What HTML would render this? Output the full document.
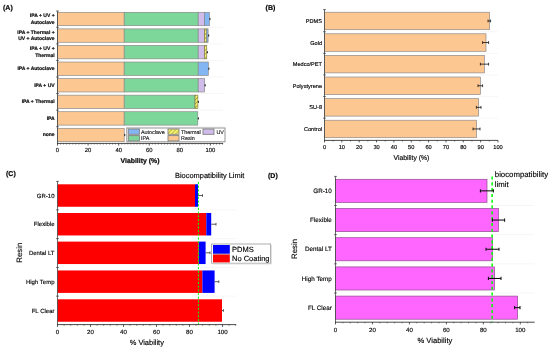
<!DOCTYPE html>
<html lang="en">
<head>
<meta charset="utf-8">
<title>Viability charts</title>
<style>
html,body{margin:0;padding:0;background:#fff;}
body{width:550px;height:350px;overflow:hidden;}
svg{display:block;font-family:"Liberation Sans", Arial, sans-serif;text-rendering:geometricPrecision;}
</style>
</head>
<body>
<svg width="550" height="350" viewBox="0 0 550 350">
<defs>
<pattern id="hatch" width="2.8" height="2.8" patternUnits="userSpaceOnUse" patternTransform="rotate(-45)">
<rect width="2.8" height="2.8" fill="#F7F074"/>
<line x1="0" y1="1.4" x2="2.8" y2="1.4" stroke="#8C8630" stroke-width="0.65"/>
</pattern>
<pattern id="hatch2" width="2.9" height="2.9" patternUnits="userSpaceOnUse" patternTransform="rotate(-45)">
<rect width="2.9" height="2.9" fill="#F8F36A"/>
<line x1="0" y1="1.45" x2="2.9" y2="1.45" stroke="#98984a" stroke-width="0.65"/>
</pattern>
</defs>
<rect width="550" height="350" fill="#ffffff"/>
<line x1="200.00" y1="27.29" x2="223.00" y2="27.29" stroke="#f0f0f0" stroke-width="0.6" />
<line x1="200.00" y1="43.85" x2="223.00" y2="43.85" stroke="#f0f0f0" stroke-width="0.6" />
<line x1="200.00" y1="60.43" x2="223.00" y2="60.43" stroke="#f0f0f0" stroke-width="0.6" />
<line x1="200.00" y1="77.00" x2="223.00" y2="77.00" stroke="#f0f0f0" stroke-width="0.6" />
<line x1="200.00" y1="93.56" x2="223.00" y2="93.56" stroke="#f0f0f0" stroke-width="0.6" />
<line x1="126.00" y1="110.14" x2="223.00" y2="110.14" stroke="#f0f0f0" stroke-width="0.6" />
<line x1="126.00" y1="126.71" x2="223.00" y2="126.71" stroke="#f0f0f0" stroke-width="0.6" />
<rect x="57.50" y="12.30" width="66.70" height="13.40" fill="#FDC792" stroke="#858585" stroke-width="0.65" />
<rect x="124.20" y="12.30" width="74.00" height="13.40" fill="#7ED79A" stroke="#858585" stroke-width="0.65" />
<rect x="198.20" y="12.30" width="6.40" height="13.40" fill="#D0BCEA" stroke="#858585" stroke-width="0.65" />
<rect x="204.60" y="12.30" width="4.80" height="13.40" fill="#84B6F3" stroke="#858585" stroke-width="0.65" />
<ellipse cx="209.95" cy="19.00" rx="0.6" ry="1.2" fill="#2a2a33"/>
<text x="54.60" y="17.00" font-size="5.0" text-anchor="end" font-weight="bold" fill="#111" stroke="#111" stroke-width="0.2">IPA + UV +</text>
<text x="54.60" y="23.80" font-size="5.0" text-anchor="end" font-weight="bold" fill="#111" stroke="#111" stroke-width="0.2">Autoclave</text>
<rect x="57.50" y="28.87" width="66.70" height="13.40" fill="#FDC792" stroke="#858585" stroke-width="0.65" />
<rect x="124.20" y="28.87" width="74.00" height="13.40" fill="#7ED79A" stroke="#858585" stroke-width="0.65" />
<rect x="198.20" y="28.87" width="6.50" height="13.40" fill="#D0BCEA" stroke="#858585" stroke-width="0.65" />
<rect x="204.70" y="28.87" width="2.10" height="13.40" fill="url(#hatch)" stroke="#77733a" stroke-width="0.6" />
<rect x="206.80" y="28.87" width="1.30" height="13.40" fill="#84B6F3" stroke="#858585" stroke-width="0.65" />
<ellipse cx="208.65" cy="35.57" rx="0.6" ry="1.2" fill="#2a2a33"/>
<text x="54.60" y="33.57" font-size="5.0" text-anchor="end" font-weight="bold" fill="#111" stroke="#111" stroke-width="0.2">IPA + Thermal +</text>
<text x="54.60" y="40.37" font-size="5.0" text-anchor="end" font-weight="bold" fill="#111" stroke="#111" stroke-width="0.2">UV + Autoclave</text>
<rect x="57.50" y="45.44" width="66.70" height="13.40" fill="#FDC792" stroke="#858585" stroke-width="0.65" />
<rect x="124.20" y="45.44" width="74.00" height="13.40" fill="#7ED79A" stroke="#858585" stroke-width="0.65" />
<rect x="198.20" y="45.44" width="6.50" height="13.40" fill="#D0BCEA" stroke="#858585" stroke-width="0.65" />
<rect x="204.70" y="45.44" width="2.10" height="13.40" fill="url(#hatch)" stroke="#77733a" stroke-width="0.6" />
<ellipse cx="207.35" cy="52.14" rx="0.6" ry="1.2" fill="#2a2a33"/>
<text x="54.60" y="50.14" font-size="5.0" text-anchor="end" font-weight="bold" fill="#111" stroke="#111" stroke-width="0.2">IPA + UV +</text>
<text x="54.60" y="56.94" font-size="5.0" text-anchor="end" font-weight="bold" fill="#111" stroke="#111" stroke-width="0.2">Thermal</text>
<rect x="57.50" y="62.01" width="66.70" height="13.40" fill="#FDC792" stroke="#858585" stroke-width="0.65" />
<rect x="124.20" y="62.01" width="74.00" height="13.40" fill="#7ED79A" stroke="#858585" stroke-width="0.65" />
<rect x="198.20" y="62.01" width="10.10" height="13.40" fill="#84B6F3" stroke="#858585" stroke-width="0.65" />
<ellipse cx="208.85" cy="68.71" rx="0.6" ry="1.2" fill="#2a2a33"/>
<text x="54.60" y="70.11" font-size="5.0" text-anchor="end" font-weight="bold" fill="#111" stroke="#111" stroke-width="0.2">IPA + Autoclave</text>
<rect x="57.50" y="78.58" width="66.70" height="13.40" fill="#FDC792" stroke="#858585" stroke-width="0.65" />
<rect x="124.20" y="78.58" width="74.00" height="13.40" fill="#7ED79A" stroke="#858585" stroke-width="0.65" />
<rect x="198.20" y="78.58" width="6.40" height="13.40" fill="#D0BCEA" stroke="#858585" stroke-width="0.65" />
<ellipse cx="205.15" cy="85.28" rx="0.6" ry="1.2" fill="#2a2a33"/>
<text x="54.60" y="86.68" font-size="5.0" text-anchor="end" font-weight="bold" fill="#111" stroke="#111" stroke-width="0.2">IPA + UV</text>
<rect x="57.50" y="95.15" width="66.70" height="13.40" fill="#FDC792" stroke="#858585" stroke-width="0.65" />
<rect x="124.20" y="95.15" width="70.80" height="13.40" fill="#7ED79A" stroke="#858585" stroke-width="0.65" />
<rect x="195.00" y="95.15" width="2.90" height="13.40" fill="url(#hatch)" stroke="#77733a" stroke-width="0.6" />
<ellipse cx="198.45" cy="101.85" rx="0.6" ry="1.2" fill="#2a2a33"/>
<text x="54.60" y="103.25" font-size="5.0" text-anchor="end" font-weight="bold" fill="#111" stroke="#111" stroke-width="0.2">IPA + Thermal</text>
<rect x="57.50" y="111.72" width="66.70" height="13.40" fill="#FDC792" stroke="#858585" stroke-width="0.65" />
<rect x="124.20" y="111.72" width="73.60" height="13.40" fill="#7ED79A" stroke="#858585" stroke-width="0.65" />
<ellipse cx="198.35" cy="118.42" rx="0.6" ry="1.2" fill="#2a2a33"/>
<text x="54.60" y="119.82" font-size="5.0" text-anchor="end" font-weight="bold" fill="#111" stroke="#111" stroke-width="0.2">IPA</text>
<rect x="57.50" y="128.29" width="66.70" height="13.40" fill="#FDC792" stroke="#858585" stroke-width="0.65" />
<ellipse cx="124.75" cy="134.99" rx="0.6" ry="1.2" fill="#2a2a33"/>
<text x="54.60" y="136.39" font-size="5.0" text-anchor="end" font-weight="bold" fill="#111" stroke="#111" stroke-width="0.2">none</text>
<line x1="57.50" y1="11.00" x2="57.50" y2="143.80" stroke="#444" stroke-width="0.8" />
<line x1="56.10" y1="11.00" x2="58.90" y2="11.00" stroke="#333" stroke-width="0.7" />
<line x1="56.10" y1="27.29" x2="58.90" y2="27.29" stroke="#333" stroke-width="0.7" />
<line x1="56.10" y1="43.85" x2="58.90" y2="43.85" stroke="#333" stroke-width="0.7" />
<line x1="56.10" y1="60.43" x2="58.90" y2="60.43" stroke="#333" stroke-width="0.7" />
<line x1="56.10" y1="77.00" x2="58.90" y2="77.00" stroke="#333" stroke-width="0.7" />
<line x1="56.10" y1="93.56" x2="58.90" y2="93.56" stroke="#333" stroke-width="0.7" />
<line x1="56.10" y1="110.14" x2="58.90" y2="110.14" stroke="#333" stroke-width="0.7" />
<line x1="56.10" y1="126.71" x2="58.90" y2="126.71" stroke="#333" stroke-width="0.7" />
<line x1="57.10" y1="143.40" x2="223.09" y2="143.40" stroke="#2a2a2a" stroke-width="0.85" />
<line x1="57.50" y1="143.40" x2="57.50" y2="145.60" stroke="#222" stroke-width="0.75" />
<text x="57.50" y="152.30" font-size="5.9" text-anchor="middle" font-weight="normal" fill="#000" stroke="#000" stroke-width="0.14">0</text>
<line x1="60.56" y1="143.40" x2="60.56" y2="144.50" stroke="#222" stroke-width="0.6" />
<line x1="63.62" y1="143.40" x2="63.62" y2="144.50" stroke="#222" stroke-width="0.6" />
<line x1="66.67" y1="143.40" x2="66.67" y2="144.50" stroke="#222" stroke-width="0.6" />
<line x1="69.73" y1="143.40" x2="69.73" y2="144.50" stroke="#222" stroke-width="0.6" />
<line x1="72.79" y1="143.40" x2="72.79" y2="144.50" stroke="#222" stroke-width="0.6" />
<line x1="75.85" y1="143.40" x2="75.85" y2="144.50" stroke="#222" stroke-width="0.6" />
<line x1="78.91" y1="143.40" x2="78.91" y2="144.50" stroke="#222" stroke-width="0.6" />
<line x1="81.96" y1="143.40" x2="81.96" y2="144.50" stroke="#222" stroke-width="0.6" />
<line x1="85.02" y1="143.40" x2="85.02" y2="144.50" stroke="#222" stroke-width="0.6" />
<line x1="88.08" y1="143.40" x2="88.08" y2="145.60" stroke="#222" stroke-width="0.75" />
<text x="88.08" y="152.30" font-size="5.9" text-anchor="middle" font-weight="normal" fill="#000" stroke="#000" stroke-width="0.14">20</text>
<line x1="91.14" y1="143.40" x2="91.14" y2="144.50" stroke="#222" stroke-width="0.6" />
<line x1="94.20" y1="143.40" x2="94.20" y2="144.50" stroke="#222" stroke-width="0.6" />
<line x1="97.25" y1="143.40" x2="97.25" y2="144.50" stroke="#222" stroke-width="0.6" />
<line x1="100.31" y1="143.40" x2="100.31" y2="144.50" stroke="#222" stroke-width="0.6" />
<line x1="103.37" y1="143.40" x2="103.37" y2="144.50" stroke="#222" stroke-width="0.6" />
<line x1="106.43" y1="143.40" x2="106.43" y2="144.50" stroke="#222" stroke-width="0.6" />
<line x1="109.49" y1="143.40" x2="109.49" y2="144.50" stroke="#222" stroke-width="0.6" />
<line x1="112.54" y1="143.40" x2="112.54" y2="144.50" stroke="#222" stroke-width="0.6" />
<line x1="115.60" y1="143.40" x2="115.60" y2="144.50" stroke="#222" stroke-width="0.6" />
<line x1="118.66" y1="143.40" x2="118.66" y2="145.60" stroke="#222" stroke-width="0.75" />
<text x="118.66" y="152.30" font-size="5.9" text-anchor="middle" font-weight="normal" fill="#000" stroke="#000" stroke-width="0.14">40</text>
<line x1="121.72" y1="143.40" x2="121.72" y2="144.50" stroke="#222" stroke-width="0.6" />
<line x1="124.78" y1="143.40" x2="124.78" y2="144.50" stroke="#222" stroke-width="0.6" />
<line x1="127.83" y1="143.40" x2="127.83" y2="144.50" stroke="#222" stroke-width="0.6" />
<line x1="130.89" y1="143.40" x2="130.89" y2="144.50" stroke="#222" stroke-width="0.6" />
<line x1="133.95" y1="143.40" x2="133.95" y2="144.50" stroke="#222" stroke-width="0.6" />
<line x1="137.01" y1="143.40" x2="137.01" y2="144.50" stroke="#222" stroke-width="0.6" />
<line x1="140.07" y1="143.40" x2="140.07" y2="144.50" stroke="#222" stroke-width="0.6" />
<line x1="143.12" y1="143.40" x2="143.12" y2="144.50" stroke="#222" stroke-width="0.6" />
<line x1="146.18" y1="143.40" x2="146.18" y2="144.50" stroke="#222" stroke-width="0.6" />
<line x1="149.24" y1="143.40" x2="149.24" y2="145.60" stroke="#222" stroke-width="0.75" />
<text x="149.24" y="152.30" font-size="5.9" text-anchor="middle" font-weight="normal" fill="#000" stroke="#000" stroke-width="0.14">60</text>
<line x1="152.30" y1="143.40" x2="152.30" y2="144.50" stroke="#222" stroke-width="0.6" />
<line x1="155.36" y1="143.40" x2="155.36" y2="144.50" stroke="#222" stroke-width="0.6" />
<line x1="158.41" y1="143.40" x2="158.41" y2="144.50" stroke="#222" stroke-width="0.6" />
<line x1="161.47" y1="143.40" x2="161.47" y2="144.50" stroke="#222" stroke-width="0.6" />
<line x1="164.53" y1="143.40" x2="164.53" y2="144.50" stroke="#222" stroke-width="0.6" />
<line x1="167.59" y1="143.40" x2="167.59" y2="144.50" stroke="#222" stroke-width="0.6" />
<line x1="170.65" y1="143.40" x2="170.65" y2="144.50" stroke="#222" stroke-width="0.6" />
<line x1="173.70" y1="143.40" x2="173.70" y2="144.50" stroke="#222" stroke-width="0.6" />
<line x1="176.76" y1="143.40" x2="176.76" y2="144.50" stroke="#222" stroke-width="0.6" />
<line x1="179.82" y1="143.40" x2="179.82" y2="145.60" stroke="#222" stroke-width="0.75" />
<text x="179.82" y="152.30" font-size="5.9" text-anchor="middle" font-weight="normal" fill="#000" stroke="#000" stroke-width="0.14">80</text>
<line x1="182.88" y1="143.40" x2="182.88" y2="144.50" stroke="#222" stroke-width="0.6" />
<line x1="185.94" y1="143.40" x2="185.94" y2="144.50" stroke="#222" stroke-width="0.6" />
<line x1="188.99" y1="143.40" x2="188.99" y2="144.50" stroke="#222" stroke-width="0.6" />
<line x1="192.05" y1="143.40" x2="192.05" y2="144.50" stroke="#222" stroke-width="0.6" />
<line x1="195.11" y1="143.40" x2="195.11" y2="144.50" stroke="#222" stroke-width="0.6" />
<line x1="198.17" y1="143.40" x2="198.17" y2="144.50" stroke="#222" stroke-width="0.6" />
<line x1="201.23" y1="143.40" x2="201.23" y2="144.50" stroke="#222" stroke-width="0.6" />
<line x1="204.28" y1="143.40" x2="204.28" y2="144.50" stroke="#222" stroke-width="0.6" />
<line x1="207.34" y1="143.40" x2="207.34" y2="144.50" stroke="#222" stroke-width="0.6" />
<line x1="210.40" y1="143.40" x2="210.40" y2="145.60" stroke="#222" stroke-width="0.75" />
<text x="210.40" y="152.30" font-size="5.9" text-anchor="middle" font-weight="normal" fill="#000" stroke="#000" stroke-width="0.14">100</text>
<line x1="213.46" y1="143.40" x2="213.46" y2="144.50" stroke="#222" stroke-width="0.6" />
<line x1="216.52" y1="143.40" x2="216.52" y2="144.50" stroke="#222" stroke-width="0.6" />
<line x1="219.57" y1="143.40" x2="219.57" y2="144.50" stroke="#222" stroke-width="0.6" />
<line x1="222.63" y1="143.40" x2="222.63" y2="144.50" stroke="#222" stroke-width="0.6" />
<text x="140.00" y="163.00" font-size="6.9" text-anchor="middle" font-weight="bold" fill="#000" stroke="#111" stroke-width="0.2">Viability (%)</text>
<text x="3.00" y="9.50" font-size="7" text-anchor="start" font-weight="bold" fill="#000" stroke="#111" stroke-width="0.2">(A)</text>
<rect x="126.80" y="128.00" width="98.20" height="13.80" fill="#fff" stroke="#939393" stroke-width="1.0" />
<rect x="128.30" y="129.00" width="11.10" height="5.30" fill="#84B6F3" stroke="#808080" stroke-width="0.9" />
<text x="141.00" y="133.60" font-size="5.4" text-anchor="start" font-weight="normal" fill="#111" stroke="#111" stroke-width="0.12">Autoclave</text>
<rect x="128.30" y="135.60" width="11.10" height="5.30" fill="#7ED79A" stroke="#808080" stroke-width="0.9" />
<text x="141.00" y="140.20" font-size="5.4" text-anchor="start" font-weight="normal" fill="#111" stroke="#111" stroke-width="0.12">IPA</text>
<rect x="168.00" y="129.00" width="11.00" height="5.30" fill="url(#hatch2)" stroke="#808080" stroke-width="0.9" />
<text x="181.00" y="133.60" font-size="5.4" text-anchor="start" font-weight="normal" fill="#111" stroke="#111" stroke-width="0.12">Thermal</text>
<rect x="168.00" y="135.60" width="11.00" height="5.30" fill="#FDC792" stroke="#808080" stroke-width="0.9" />
<text x="181.00" y="140.20" font-size="5.4" text-anchor="start" font-weight="normal" fill="#111" stroke="#111" stroke-width="0.12">Resin</text>
<rect x="203.00" y="129.00" width="11.00" height="5.30" fill="#D0BCEA" stroke="#808080" stroke-width="0.9" />
<text x="216.40" y="133.60" font-size="5.4" text-anchor="start" font-weight="normal" fill="#111" stroke="#111" stroke-width="0.12">UV</text>
<line x1="480.00" y1="31.75" x2="498.00" y2="31.75" stroke="#f0f0f0" stroke-width="0.6" />
<line x1="480.00" y1="53.35" x2="498.00" y2="53.35" stroke="#f0f0f0" stroke-width="0.6" />
<line x1="480.00" y1="74.95" x2="498.00" y2="74.95" stroke="#f0f0f0" stroke-width="0.6" />
<line x1="480.00" y1="96.55" x2="498.00" y2="96.55" stroke="#f0f0f0" stroke-width="0.6" />
<line x1="480.00" y1="118.15" x2="498.00" y2="118.15" stroke="#f0f0f0" stroke-width="0.6" />
<rect x="324.50" y="12.20" width="165.10" height="17.50" fill="#FDC792" stroke="#858585" stroke-width="0.65" />
<line x1="488.00" y1="20.95" x2="490.60" y2="20.95" stroke="#111" stroke-width="0.8" />
<line x1="488.00" y1="19.55" x2="488.00" y2="22.35" stroke="#111" stroke-width="0.8" />
<line x1="490.60" y1="19.55" x2="490.60" y2="22.35" stroke="#111" stroke-width="0.8" />
<text x="322.00" y="22.95" font-size="5.6" text-anchor="end" font-weight="normal" fill="#000" stroke="#000" stroke-width="0.14">PDMS</text>
<rect x="324.50" y="33.80" width="161.50" height="17.50" fill="#FDC792" stroke="#858585" stroke-width="0.65" />
<line x1="482.60" y1="42.55" x2="488.60" y2="42.55" stroke="#111" stroke-width="0.8" />
<line x1="482.60" y1="41.15" x2="482.60" y2="43.95" stroke="#111" stroke-width="0.8" />
<line x1="488.60" y1="41.15" x2="488.60" y2="43.95" stroke="#111" stroke-width="0.8" />
<text x="322.00" y="44.55" font-size="5.6" text-anchor="end" font-weight="normal" fill="#000" stroke="#000" stroke-width="0.14">Gold</text>
<rect x="324.50" y="55.40" width="159.90" height="17.50" fill="#FDC792" stroke="#858585" stroke-width="0.65" />
<line x1="480.40" y1="64.15" x2="488.60" y2="64.15" stroke="#111" stroke-width="0.8" />
<line x1="480.40" y1="62.75" x2="480.40" y2="65.55" stroke="#111" stroke-width="0.8" />
<line x1="488.60" y1="62.75" x2="488.60" y2="65.55" stroke="#111" stroke-width="0.8" />
<text x="322.00" y="66.15" font-size="5.6" text-anchor="end" font-weight="normal" fill="#000" stroke="#000" stroke-width="0.14">Medco/PET</text>
<rect x="324.50" y="77.00" width="155.90" height="17.50" fill="#FDC792" stroke="#858585" stroke-width="0.65" />
<line x1="478.00" y1="85.75" x2="482.60" y2="85.75" stroke="#111" stroke-width="0.8" />
<line x1="478.00" y1="84.35" x2="478.00" y2="87.15" stroke="#111" stroke-width="0.8" />
<line x1="482.60" y1="84.35" x2="482.60" y2="87.15" stroke="#111" stroke-width="0.8" />
<text x="322.00" y="87.75" font-size="5.6" text-anchor="end" font-weight="normal" fill="#000" stroke="#000" stroke-width="0.14">Polystyrene</text>
<rect x="324.50" y="98.60" width="154.10" height="17.50" fill="#FDC792" stroke="#858585" stroke-width="0.65" />
<line x1="476.40" y1="107.35" x2="481.00" y2="107.35" stroke="#111" stroke-width="0.8" />
<line x1="476.40" y1="105.95" x2="476.40" y2="108.75" stroke="#111" stroke-width="0.8" />
<line x1="481.00" y1="105.95" x2="481.00" y2="108.75" stroke="#111" stroke-width="0.8" />
<text x="322.00" y="109.35" font-size="5.6" text-anchor="end" font-weight="normal" fill="#000" stroke="#000" stroke-width="0.14">SU-8</text>
<rect x="324.50" y="120.20" width="152.10" height="17.50" fill="#FDC792" stroke="#858585" stroke-width="0.65" />
<line x1="473.00" y1="128.95" x2="480.00" y2="128.95" stroke="#111" stroke-width="0.8" />
<line x1="473.00" y1="127.55" x2="473.00" y2="130.35" stroke="#111" stroke-width="0.8" />
<line x1="480.00" y1="127.55" x2="480.00" y2="130.35" stroke="#111" stroke-width="0.8" />
<text x="322.00" y="130.95" font-size="5.6" text-anchor="end" font-weight="normal" fill="#000" stroke="#000" stroke-width="0.14">Control</text>
<line x1="324.50" y1="9.60" x2="324.50" y2="140.80" stroke="#444" stroke-width="0.8" />
<line x1="323.10" y1="9.60" x2="325.90" y2="9.60" stroke="#333" stroke-width="0.7" />
<line x1="323.10" y1="31.75" x2="325.90" y2="31.75" stroke="#333" stroke-width="0.7" />
<line x1="323.10" y1="53.35" x2="325.90" y2="53.35" stroke="#333" stroke-width="0.7" />
<line x1="323.10" y1="74.95" x2="325.90" y2="74.95" stroke="#333" stroke-width="0.7" />
<line x1="323.10" y1="96.55" x2="325.90" y2="96.55" stroke="#333" stroke-width="0.7" />
<line x1="323.10" y1="118.15" x2="325.90" y2="118.15" stroke="#333" stroke-width="0.7" />
<line x1="324.10" y1="140.40" x2="498.00" y2="140.40" stroke="#2a2a2a" stroke-width="0.85" />
<line x1="324.50" y1="140.40" x2="324.50" y2="142.40" stroke="#222" stroke-width="0.75" />
<text x="324.50" y="149.00" font-size="5.7" text-anchor="middle" font-weight="normal" fill="#000" stroke="#000" stroke-width="0.14">0</text>
<line x1="333.18" y1="140.40" x2="333.18" y2="141.50" stroke="#222" stroke-width="0.6" />
<line x1="341.85" y1="140.40" x2="341.85" y2="142.40" stroke="#222" stroke-width="0.75" />
<text x="341.85" y="149.00" font-size="5.7" text-anchor="middle" font-weight="normal" fill="#000" stroke="#000" stroke-width="0.14">10</text>
<line x1="350.52" y1="140.40" x2="350.52" y2="141.50" stroke="#222" stroke-width="0.6" />
<line x1="359.20" y1="140.40" x2="359.20" y2="142.40" stroke="#222" stroke-width="0.75" />
<text x="359.20" y="149.00" font-size="5.7" text-anchor="middle" font-weight="normal" fill="#000" stroke="#000" stroke-width="0.14">20</text>
<line x1="367.88" y1="140.40" x2="367.88" y2="141.50" stroke="#222" stroke-width="0.6" />
<line x1="376.55" y1="140.40" x2="376.55" y2="142.40" stroke="#222" stroke-width="0.75" />
<text x="376.55" y="149.00" font-size="5.7" text-anchor="middle" font-weight="normal" fill="#000" stroke="#000" stroke-width="0.14">30</text>
<line x1="385.23" y1="140.40" x2="385.23" y2="141.50" stroke="#222" stroke-width="0.6" />
<line x1="393.90" y1="140.40" x2="393.90" y2="142.40" stroke="#222" stroke-width="0.75" />
<text x="393.90" y="149.00" font-size="5.7" text-anchor="middle" font-weight="normal" fill="#000" stroke="#000" stroke-width="0.14">40</text>
<line x1="402.57" y1="140.40" x2="402.57" y2="141.50" stroke="#222" stroke-width="0.6" />
<line x1="411.25" y1="140.40" x2="411.25" y2="142.40" stroke="#222" stroke-width="0.75" />
<text x="411.25" y="149.00" font-size="5.7" text-anchor="middle" font-weight="normal" fill="#000" stroke="#000" stroke-width="0.14">50</text>
<line x1="419.93" y1="140.40" x2="419.93" y2="141.50" stroke="#222" stroke-width="0.6" />
<line x1="428.60" y1="140.40" x2="428.60" y2="142.40" stroke="#222" stroke-width="0.75" />
<text x="428.60" y="149.00" font-size="5.7" text-anchor="middle" font-weight="normal" fill="#000" stroke="#000" stroke-width="0.14">60</text>
<line x1="437.27" y1="140.40" x2="437.27" y2="141.50" stroke="#222" stroke-width="0.6" />
<line x1="445.95" y1="140.40" x2="445.95" y2="142.40" stroke="#222" stroke-width="0.75" />
<text x="445.95" y="149.00" font-size="5.7" text-anchor="middle" font-weight="normal" fill="#000" stroke="#000" stroke-width="0.14">70</text>
<line x1="454.62" y1="140.40" x2="454.62" y2="141.50" stroke="#222" stroke-width="0.6" />
<line x1="463.30" y1="140.40" x2="463.30" y2="142.40" stroke="#222" stroke-width="0.75" />
<text x="463.30" y="149.00" font-size="5.7" text-anchor="middle" font-weight="normal" fill="#000" stroke="#000" stroke-width="0.14">80</text>
<line x1="471.98" y1="140.40" x2="471.98" y2="141.50" stroke="#222" stroke-width="0.6" />
<line x1="480.65" y1="140.40" x2="480.65" y2="142.40" stroke="#222" stroke-width="0.75" />
<text x="480.65" y="149.00" font-size="5.7" text-anchor="middle" font-weight="normal" fill="#000" stroke="#000" stroke-width="0.14">90</text>
<line x1="489.33" y1="140.40" x2="489.33" y2="141.50" stroke="#222" stroke-width="0.6" />
<line x1="498.00" y1="140.40" x2="498.00" y2="142.40" stroke="#222" stroke-width="0.75" />
<text x="498.00" y="149.00" font-size="5.7" text-anchor="middle" font-weight="normal" fill="#000" stroke="#000" stroke-width="0.14">100</text>
<text x="411.40" y="160.00" font-size="6.8" text-anchor="middle" font-weight="normal" fill="#000" stroke="#000" stroke-width="0.14">Viability (%)</text>
<text x="265.60" y="9.50" font-size="7" text-anchor="start" font-weight="bold" fill="#000" stroke="#111" stroke-width="0.2">(B)</text>
<line x1="200.00" y1="209.90" x2="236.00" y2="209.90" stroke="#f0f0f0" stroke-width="0.6" />
<line x1="200.00" y1="238.65" x2="236.00" y2="238.65" stroke="#f0f0f0" stroke-width="0.6" />
<line x1="200.00" y1="267.40" x2="236.00" y2="267.40" stroke="#f0f0f0" stroke-width="0.6" />
<line x1="200.00" y1="296.15" x2="236.00" y2="296.15" stroke="#f0f0f0" stroke-width="0.6" />
<rect x="57.50" y="184.30" width="137.50" height="22.45" fill="#FF0000" stroke="none" stroke-width="0" />
<rect x="195.00" y="184.30" width="3.00" height="22.45" fill="#0000FF" stroke="none" stroke-width="0" />
<line x1="198.00" y1="195.53" x2="202.50" y2="195.53" stroke="#333" stroke-width="0.8" />
<line x1="202.50" y1="194.22" x2="202.50" y2="196.83" stroke="#333" stroke-width="0.8" />
<text x="54.50" y="197.72" font-size="6.0" text-anchor="end" font-weight="normal" fill="#000" stroke="#000" stroke-width="0.14">GR-10</text>
<rect x="57.50" y="213.00" width="148.80" height="22.45" fill="#FF0000" stroke="none" stroke-width="0" />
<rect x="206.30" y="213.00" width="4.90" height="22.45" fill="#0000FF" stroke="none" stroke-width="0" />
<line x1="211.20" y1="224.22" x2="216.00" y2="224.22" stroke="#333" stroke-width="0.8" />
<line x1="216.00" y1="222.92" x2="216.00" y2="225.53" stroke="#333" stroke-width="0.8" />
<text x="54.50" y="226.42" font-size="6.0" text-anchor="end" font-weight="normal" fill="#000" stroke="#000" stroke-width="0.14">Flexible</text>
<rect x="57.50" y="241.60" width="141.30" height="22.45" fill="#FF0000" stroke="none" stroke-width="0" />
<rect x="198.80" y="241.60" width="6.80" height="22.45" fill="#0000FF" stroke="none" stroke-width="0" />
<line x1="205.60" y1="252.82" x2="210.00" y2="252.82" stroke="#333" stroke-width="0.8" />
<line x1="210.00" y1="251.52" x2="210.00" y2="254.12" stroke="#333" stroke-width="0.8" />
<text x="54.50" y="255.02" font-size="6.0" text-anchor="end" font-weight="normal" fill="#000" stroke="#000" stroke-width="0.14">Dental LT</text>
<rect x="57.50" y="270.45" width="144.90" height="22.45" fill="#FF0000" stroke="none" stroke-width="0" />
<rect x="202.40" y="270.45" width="12.20" height="22.45" fill="#0000FF" stroke="none" stroke-width="0" />
<line x1="214.60" y1="281.68" x2="218.80" y2="281.68" stroke="#333" stroke-width="0.8" />
<line x1="218.80" y1="280.38" x2="218.80" y2="282.98" stroke="#333" stroke-width="0.8" />
<text x="54.50" y="283.88" font-size="6.0" text-anchor="end" font-weight="normal" fill="#000" stroke="#000" stroke-width="0.14">High Temp</text>
<rect x="57.50" y="299.30" width="164.50" height="22.45" fill="#FF0000" stroke="none" stroke-width="0" />
<line x1="222.00" y1="310.53" x2="223.40" y2="310.53" stroke="#333" stroke-width="0.8" />
<line x1="223.40" y1="309.23" x2="223.40" y2="311.83" stroke="#333" stroke-width="0.8" />
<text x="54.50" y="312.73" font-size="6.0" text-anchor="end" font-weight="normal" fill="#000" stroke="#000" stroke-width="0.14">FL Clear</text>
<line x1="198.40" y1="182.00" x2="198.40" y2="324.60" stroke="#00FF00" stroke-width="1.0" stroke-dasharray="2.1 1.6"/>
<line x1="57.50" y1="181.40" x2="57.50" y2="325.00" stroke="#444" stroke-width="0.8" />
<line x1="56.10" y1="181.40" x2="58.90" y2="181.40" stroke="#333" stroke-width="0.7" />
<line x1="56.10" y1="209.90" x2="58.90" y2="209.90" stroke="#333" stroke-width="0.7" />
<line x1="56.10" y1="238.65" x2="58.90" y2="238.65" stroke="#333" stroke-width="0.7" />
<line x1="56.10" y1="267.40" x2="58.90" y2="267.40" stroke="#333" stroke-width="0.7" />
<line x1="56.10" y1="296.15" x2="58.90" y2="296.15" stroke="#333" stroke-width="0.7" />
<line x1="57.10" y1="324.60" x2="236.19" y2="324.60" stroke="#2a2a2a" stroke-width="0.85" />
<line x1="57.50" y1="324.60" x2="57.50" y2="326.80" stroke="#222" stroke-width="0.75" />
<text x="57.50" y="334.30" font-size="6.1" text-anchor="middle" font-weight="normal" fill="#000" stroke="#000" stroke-width="0.14">0</text>
<line x1="64.10" y1="324.60" x2="64.10" y2="325.70" stroke="#222" stroke-width="0.6" />
<line x1="70.70" y1="324.60" x2="70.70" y2="325.70" stroke="#222" stroke-width="0.6" />
<line x1="77.30" y1="324.60" x2="77.30" y2="325.70" stroke="#222" stroke-width="0.6" />
<line x1="83.90" y1="324.60" x2="83.90" y2="325.70" stroke="#222" stroke-width="0.6" />
<line x1="90.50" y1="324.60" x2="90.50" y2="326.80" stroke="#222" stroke-width="0.75" />
<text x="90.50" y="334.30" font-size="6.1" text-anchor="middle" font-weight="normal" fill="#000" stroke="#000" stroke-width="0.14">20</text>
<line x1="97.10" y1="324.60" x2="97.10" y2="325.70" stroke="#222" stroke-width="0.6" />
<line x1="103.70" y1="324.60" x2="103.70" y2="325.70" stroke="#222" stroke-width="0.6" />
<line x1="110.30" y1="324.60" x2="110.30" y2="325.70" stroke="#222" stroke-width="0.6" />
<line x1="116.90" y1="324.60" x2="116.90" y2="325.70" stroke="#222" stroke-width="0.6" />
<line x1="123.50" y1="324.60" x2="123.50" y2="326.80" stroke="#222" stroke-width="0.75" />
<text x="123.50" y="334.30" font-size="6.1" text-anchor="middle" font-weight="normal" fill="#000" stroke="#000" stroke-width="0.14">40</text>
<line x1="130.10" y1="324.60" x2="130.10" y2="325.70" stroke="#222" stroke-width="0.6" />
<line x1="136.70" y1="324.60" x2="136.70" y2="325.70" stroke="#222" stroke-width="0.6" />
<line x1="143.30" y1="324.60" x2="143.30" y2="325.70" stroke="#222" stroke-width="0.6" />
<line x1="149.90" y1="324.60" x2="149.90" y2="325.70" stroke="#222" stroke-width="0.6" />
<line x1="156.50" y1="324.60" x2="156.50" y2="326.80" stroke="#222" stroke-width="0.75" />
<text x="156.50" y="334.30" font-size="6.1" text-anchor="middle" font-weight="normal" fill="#000" stroke="#000" stroke-width="0.14">60</text>
<line x1="163.10" y1="324.60" x2="163.10" y2="325.70" stroke="#222" stroke-width="0.6" />
<line x1="169.70" y1="324.60" x2="169.70" y2="325.70" stroke="#222" stroke-width="0.6" />
<line x1="176.30" y1="324.60" x2="176.30" y2="325.70" stroke="#222" stroke-width="0.6" />
<line x1="182.90" y1="324.60" x2="182.90" y2="325.70" stroke="#222" stroke-width="0.6" />
<line x1="189.50" y1="324.60" x2="189.50" y2="326.80" stroke="#222" stroke-width="0.75" />
<text x="189.50" y="334.30" font-size="6.1" text-anchor="middle" font-weight="normal" fill="#000" stroke="#000" stroke-width="0.14">80</text>
<line x1="196.10" y1="324.60" x2="196.10" y2="325.70" stroke="#222" stroke-width="0.6" />
<line x1="202.70" y1="324.60" x2="202.70" y2="325.70" stroke="#222" stroke-width="0.6" />
<line x1="209.30" y1="324.60" x2="209.30" y2="325.70" stroke="#222" stroke-width="0.6" />
<line x1="215.90" y1="324.60" x2="215.90" y2="325.70" stroke="#222" stroke-width="0.6" />
<line x1="222.50" y1="324.60" x2="222.50" y2="326.80" stroke="#222" stroke-width="0.75" />
<text x="222.50" y="334.30" font-size="6.1" text-anchor="middle" font-weight="normal" fill="#000" stroke="#000" stroke-width="0.14">100</text>
<line x1="229.10" y1="324.60" x2="229.10" y2="325.70" stroke="#222" stroke-width="0.6" />
<line x1="235.70" y1="324.60" x2="235.70" y2="325.70" stroke="#222" stroke-width="0.6" />
<text x="146.80" y="345.00" font-size="7.45" text-anchor="middle" font-weight="normal" fill="#000" stroke="#000" stroke-width="0.14">% Viability</text>
<text x="6.00" y="176.40" font-size="7" text-anchor="start" font-weight="bold" fill="#000" stroke="#111" stroke-width="0.2">(C)</text>
<text x="175.00" y="177.80" font-size="7.45" text-anchor="start" font-weight="normal" fill="#000" stroke="#000" stroke-width="0.14">Biocompatibility Limit</text>
<text transform="translate(21.6,252.7) rotate(-90)" font-size="7.8" text-anchor="middle" fill="#000" stroke="#000" stroke-width="0.14">Resin</text>
<rect x="211.60" y="244.00" width="59.00" height="19.20" fill="#fff" stroke="#9a9a9a" stroke-width="0.8" />
<rect x="213.00" y="245.00" width="16.80" height="8.80" fill="#0000FF" stroke="none" stroke-width="0" />
<rect x="213.00" y="254.40" width="16.80" height="8.00" fill="#FF0000" stroke="none" stroke-width="0" />
<line x1="213.00" y1="254.10" x2="229.80" y2="254.10" stroke="#888" stroke-width="0.5" />
<line x1="271.30" y1="245.00" x2="271.30" y2="264.00" stroke="#d0d0d0" stroke-width="0.8" />
<line x1="212.60" y1="263.90" x2="271.30" y2="263.90" stroke="#d0d0d0" stroke-width="0.8" />
<text x="232.00" y="251.70" font-size="7.5" text-anchor="start" font-weight="normal" fill="#000" stroke="#000" stroke-width="0.14">PDMS</text>
<text x="232.00" y="261.10" font-size="7.5" text-anchor="start" font-weight="normal" fill="#000" stroke="#000" stroke-width="0.14">No Coating</text>
<line x1="490.00" y1="205.45" x2="534.40" y2="205.45" stroke="#f0f0f0" stroke-width="0.6" />
<line x1="490.00" y1="234.65" x2="534.40" y2="234.65" stroke="#f0f0f0" stroke-width="0.6" />
<line x1="490.00" y1="263.85" x2="534.40" y2="263.85" stroke="#f0f0f0" stroke-width="0.6" />
<line x1="490.00" y1="293.05" x2="534.40" y2="293.05" stroke="#f0f0f0" stroke-width="0.6" />
<rect x="335.50" y="179.30" width="151.50" height="23.10" fill="#FF66FF" stroke="#8F4A8F" stroke-width="0.7" />
<text x="331.80" y="193.05" font-size="6.3" text-anchor="end" font-weight="normal" fill="#000" stroke="#000" stroke-width="0.14">GR-10</text>
<rect x="335.50" y="208.50" width="162.90" height="23.10" fill="#FF66FF" stroke="#8F4A8F" stroke-width="0.7" />
<text x="331.80" y="222.25" font-size="6.3" text-anchor="end" font-weight="normal" fill="#000" stroke="#000" stroke-width="0.14">Flexible</text>
<rect x="335.50" y="237.70" width="156.90" height="23.10" fill="#FF66FF" stroke="#8F4A8F" stroke-width="0.7" />
<text x="331.80" y="251.45" font-size="6.3" text-anchor="end" font-weight="normal" fill="#000" stroke="#000" stroke-width="0.14">Dental LT</text>
<rect x="335.50" y="266.90" width="158.90" height="23.10" fill="#FF66FF" stroke="#8F4A8F" stroke-width="0.7" />
<text x="331.80" y="280.65" font-size="6.3" text-anchor="end" font-weight="normal" fill="#000" stroke="#000" stroke-width="0.14">High Temp</text>
<rect x="335.50" y="296.10" width="182.10" height="23.10" fill="#FF66FF" stroke="#8F4A8F" stroke-width="0.7" />
<text x="331.80" y="309.85" font-size="6.3" text-anchor="end" font-weight="normal" fill="#000" stroke="#000" stroke-width="0.14">FL Clear</text>
<line x1="492.15" y1="176.50" x2="492.15" y2="322.20" stroke="#00FF00" stroke-width="1.5" stroke-dasharray="3.1 2.7"/>
<line x1="480.40" y1="190.85" x2="493.40" y2="190.85" stroke="#111" stroke-width="1.05" />
<line x1="480.40" y1="189.25" x2="480.40" y2="192.45" stroke="#111" stroke-width="1.05" />
<line x1="493.40" y1="189.25" x2="493.40" y2="192.45" stroke="#111" stroke-width="1.05" />
<line x1="492.40" y1="220.05" x2="504.60" y2="220.05" stroke="#111" stroke-width="1.05" />
<line x1="492.40" y1="218.45" x2="492.40" y2="221.65" stroke="#111" stroke-width="1.05" />
<line x1="504.60" y1="218.45" x2="504.60" y2="221.65" stroke="#111" stroke-width="1.05" />
<line x1="486.00" y1="249.25" x2="499.00" y2="249.25" stroke="#111" stroke-width="1.05" />
<line x1="486.00" y1="247.65" x2="486.00" y2="250.85" stroke="#111" stroke-width="1.05" />
<line x1="499.00" y1="247.65" x2="499.00" y2="250.85" stroke="#111" stroke-width="1.05" />
<line x1="488.40" y1="278.45" x2="501.00" y2="278.45" stroke="#111" stroke-width="1.05" />
<line x1="488.40" y1="276.85" x2="488.40" y2="280.05" stroke="#111" stroke-width="1.05" />
<line x1="501.00" y1="276.85" x2="501.00" y2="280.05" stroke="#111" stroke-width="1.05" />
<line x1="514.60" y1="307.65" x2="520.00" y2="307.65" stroke="#111" stroke-width="1.05" />
<line x1="514.60" y1="306.05" x2="514.60" y2="309.25" stroke="#111" stroke-width="1.05" />
<line x1="520.00" y1="306.05" x2="520.00" y2="309.25" stroke="#111" stroke-width="1.05" />
<line x1="335.50" y1="176.40" x2="335.50" y2="322.60" stroke="#444" stroke-width="0.8" />
<line x1="334.10" y1="176.40" x2="336.90" y2="176.40" stroke="#333" stroke-width="0.7" />
<line x1="334.10" y1="205.45" x2="336.90" y2="205.45" stroke="#333" stroke-width="0.7" />
<line x1="334.10" y1="234.65" x2="336.90" y2="234.65" stroke="#333" stroke-width="0.7" />
<line x1="334.10" y1="263.85" x2="336.90" y2="263.85" stroke="#333" stroke-width="0.7" />
<line x1="334.10" y1="293.05" x2="336.90" y2="293.05" stroke="#333" stroke-width="0.7" />
<line x1="335.10" y1="322.20" x2="534.71" y2="322.20" stroke="#2a2a2a" stroke-width="0.85" />
<line x1="335.50" y1="322.20" x2="335.50" y2="324.40" stroke="#222" stroke-width="0.75" />
<text x="335.50" y="331.80" font-size="6.1" text-anchor="middle" font-weight="normal" fill="#000" stroke="#000" stroke-width="0.14">0</text>
<line x1="342.89" y1="322.20" x2="342.89" y2="323.30" stroke="#222" stroke-width="0.6" />
<line x1="350.28" y1="322.20" x2="350.28" y2="323.30" stroke="#222" stroke-width="0.6" />
<line x1="357.68" y1="322.20" x2="357.68" y2="323.30" stroke="#222" stroke-width="0.6" />
<line x1="365.07" y1="322.20" x2="365.07" y2="323.30" stroke="#222" stroke-width="0.6" />
<line x1="372.46" y1="322.20" x2="372.46" y2="324.40" stroke="#222" stroke-width="0.75" />
<text x="372.46" y="331.80" font-size="6.1" text-anchor="middle" font-weight="normal" fill="#000" stroke="#000" stroke-width="0.14">20</text>
<line x1="379.85" y1="322.20" x2="379.85" y2="323.30" stroke="#222" stroke-width="0.6" />
<line x1="387.24" y1="322.20" x2="387.24" y2="323.30" stroke="#222" stroke-width="0.6" />
<line x1="394.64" y1="322.20" x2="394.64" y2="323.30" stroke="#222" stroke-width="0.6" />
<line x1="402.03" y1="322.20" x2="402.03" y2="323.30" stroke="#222" stroke-width="0.6" />
<line x1="409.42" y1="322.20" x2="409.42" y2="324.40" stroke="#222" stroke-width="0.75" />
<text x="409.42" y="331.80" font-size="6.1" text-anchor="middle" font-weight="normal" fill="#000" stroke="#000" stroke-width="0.14">40</text>
<line x1="416.81" y1="322.20" x2="416.81" y2="323.30" stroke="#222" stroke-width="0.6" />
<line x1="424.20" y1="322.20" x2="424.20" y2="323.30" stroke="#222" stroke-width="0.6" />
<line x1="431.60" y1="322.20" x2="431.60" y2="323.30" stroke="#222" stroke-width="0.6" />
<line x1="438.99" y1="322.20" x2="438.99" y2="323.30" stroke="#222" stroke-width="0.6" />
<line x1="446.38" y1="322.20" x2="446.38" y2="324.40" stroke="#222" stroke-width="0.75" />
<text x="446.38" y="331.80" font-size="6.1" text-anchor="middle" font-weight="normal" fill="#000" stroke="#000" stroke-width="0.14">60</text>
<line x1="453.77" y1="322.20" x2="453.77" y2="323.30" stroke="#222" stroke-width="0.6" />
<line x1="461.16" y1="322.20" x2="461.16" y2="323.30" stroke="#222" stroke-width="0.6" />
<line x1="468.56" y1="322.20" x2="468.56" y2="323.30" stroke="#222" stroke-width="0.6" />
<line x1="475.95" y1="322.20" x2="475.95" y2="323.30" stroke="#222" stroke-width="0.6" />
<line x1="483.34" y1="322.20" x2="483.34" y2="324.40" stroke="#222" stroke-width="0.75" />
<text x="483.34" y="331.80" font-size="6.1" text-anchor="middle" font-weight="normal" fill="#000" stroke="#000" stroke-width="0.14">80</text>
<line x1="490.73" y1="322.20" x2="490.73" y2="323.30" stroke="#222" stroke-width="0.6" />
<line x1="498.12" y1="322.20" x2="498.12" y2="323.30" stroke="#222" stroke-width="0.6" />
<line x1="505.52" y1="322.20" x2="505.52" y2="323.30" stroke="#222" stroke-width="0.6" />
<line x1="512.91" y1="322.20" x2="512.91" y2="323.30" stroke="#222" stroke-width="0.6" />
<line x1="520.30" y1="322.20" x2="520.30" y2="324.40" stroke="#222" stroke-width="0.75" />
<text x="520.30" y="331.80" font-size="6.1" text-anchor="middle" font-weight="normal" fill="#000" stroke="#000" stroke-width="0.14">100</text>
<line x1="527.69" y1="322.20" x2="527.69" y2="323.30" stroke="#222" stroke-width="0.6" />
<text x="434.90" y="343.20" font-size="7.6" text-anchor="middle" font-weight="normal" fill="#000" stroke="#000" stroke-width="0.14">% Viability</text>
<text x="268.00" y="177.50" font-size="7" text-anchor="start" font-weight="bold" fill="#000" stroke="#111" stroke-width="0.2">(D)</text>
<text x="494.80" y="177.30" font-size="7.8" text-anchor="start" font-weight="normal" fill="#000" stroke="#000" stroke-width="0.14">biocompatibility</text>
<text x="494.80" y="186.90" font-size="7.8" text-anchor="start" font-weight="normal" fill="#000" stroke="#000" stroke-width="0.14">limit</text>
<text transform="translate(297.3,249) rotate(-90)" font-size="7.8" text-anchor="middle" fill="#000" stroke="#000" stroke-width="0.14">Resin</text>
</svg>
</body>
</html>
